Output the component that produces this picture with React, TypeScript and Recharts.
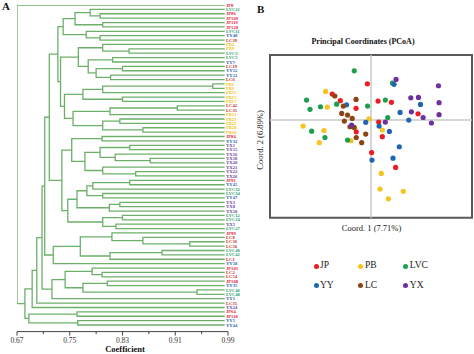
import React from "react";
import {
  LineChart,
  Line,
  XAxis,
  YAxis,
  ScatterChart,
  Scatter,
  ReferenceLine,
  ReferenceArea,
} from "recharts";

const SERIF = "'Liberation Serif', 'Times New Roman', serif";

// ---- Panel A: UPGMA dendrogram ----
const leafLabels = [
  "JP8", "LVC21", "JP86", "JP109", "JP119", "JP128", "LVC11", "YY48", "LC39", "PB4",
  "PB9", "LVC3", "LVC5", "YY7", "LC19", "YY12", "YY22", "LC6", "PB1", "PB3",
  "PB11", "PB15", "PB17", "LC42", "LC31", "PB21", "PB23", "PB25", "PB28", "PB30",
  "JP84", "YY32", "YX1", "YX15", "YX16", "YX18", "YX20", "YX21", "YX22", "YX26",
  "JP91", "YY45", "LVC32", "LVC34", "YY47", "YX3", "YX8", "YX10", "LVC12", "LVC14",
  "YX5", "LVC27", "JP99", "LC8", "LC36", "LC50", "LVC40", "LVC42", "LC1", "YY18",
  "JP103", "LC2", "LC54", "JP108", "YY35", "LVC46", "LVC48", "YY1", "LC35", "YX24",
  "JP64", "JP118", "YY5", "YY44",
];

// node = [coefficient, left, right]; numbers are leaf indices
type Node = number | [number, Node, Node];

const topCluster: Node = [0.74, [0.758, [0.781, 1, [0.796, 2, 3]], [0.8, 4, 5]], [0.775, 6, [0.796, 7, 8]]];
const cluster9to17: Node = [0.763, [0.8, 9, [0.84, 10, 11]], [0.778, [0.815, 12, 13], [0.79, [0.83, 14, 15], [0.812, 16, 17]]]];
const cluster18to22: Node = [0.77, [0.8, [0.967, 18, 19], 20], [0.83, 21, 22]];
const cluster23to29: Node = [0.755, [0.811, [0.913, 23, 24], 25], [0.8, [0.826, 26, 27], [0.861, 28, 29]]];
const cluster30to39: Node = [0.753, [0.799, 30, 31], [0.773, [0.796, [0.841, 32, 33], [0.819, 34, [0.872, 35, 36]]], [0.8, 37, [0.85, 38, 39]]]];
const cluster40to51: Node = [0.747, [0.761, [0.776, [0.785, [0.841, 40, 41], 42], [0.8, 43, 44]], [0.81, [0.826, 45, 46], 47]], [0.8, [0.83, 48, 49], [0.82, 50, 51]]];
const cluster52to59: Node = [0.725, [0.766, [0.814, 52, [0.861, 53, [0.932, 54, 55]]], [0.811, [0.89, 56, 57], 58]], 59];
const cluster60to67: Node = [0.723, [0.743, [0.784, 60, [0.799, 61, 62]], [0.77, [0.807, 63, 64], [0.943, 65, 66]]], 67];
const cluster70to73: Node = [0.688, [0.761, 70, 71], [0.762, 72, 73]];

const upperBranch: Node = [0.732, topCluster, [0.736, cluster9to17, [0.742, cluster18to22, cluster23to29]]];
const middleBranch: Node = [0.738, cluster30to39, cluster40to51];
const fullTree: Node = [
  0.67,
  0,
  [0.682, [0.693, [0.7, [0.708, [0.712, [0.719, upperBranch, middleBranch], cluster52to59], cluster60to67], 68], 69], cluster70to73],
];

const majorTicks = [0.67, 0.75, 0.83, 0.91, 0.99];
const minorTicks = [0.71, 0.79, 0.87, 0.95];

// ---- Panel B: PCoA ----
const groups = ["JP", "PB", "LVC", "YY", "LC", "YX"];
const groupColors: Record<string, string> = {
  JP: "#ec1c24",
  PB: "#f7c31c",
  LVC: "#1ca04f",
  YY: "#1f66b0",
  LC: "#8b4513",
  YX: "#6f2f9f",
};
const labelColors: Record<string, string> = {
  JP: "#e3173a",
  PB: "#f2c019",
  LVC: "#1e9d6e",
  YY: "#2c62b3",
  LC: "#c42b2b",
  YX: "#6b3a9c",
};

const jpPoints = [
  [-0.018, 0.223], [-0.192, 0.16], [-0.152, 0.119], [-0.074, 0.072], [0.035, 0.117], [0.101, 0.109],
  [0.233, 0.039], [0.038, -0.012], [-0.073, -0.072], [0.056, -0.102], [0.003, -0.2], [0.122, -0.291],
];
const pbPoints = [
  [-0.225, 0.176], [-0.217, 0.08], [-0.01, 0.008], [-0.336, -0.037], [-0.233, -0.064], [-0.256, -0.139],
  [-0.099, -0.127], [0.056, -0.061], [0.051, -0.328], [0.045, -0.424], [0.16, -0.438], [0.086, -0.484],
];
const lvcPoints = [
  [-0.083, 0.303], [-0.319, 0.123], [-0.302, 0.066], [-0.25, 0.082], [-0.17, 0.098], [-0.017, 0.086],
  [0.071, 0.123], [0.083, 0.016], [-0.294, -0.068], [-0.228, -0.107], [-0.116, -0.123], [0.106, 0.228],
];
const yyPoints = [
  [0.114, 0.22], [-0.121, 0.094], [0.245, 0.096], [0.144, 0.047], [0.187, 0], [-0.026, -0.014],
  [0.04, -0.037], [0.091, -0.07], [0.14, -0.164], [0.005, -0.246], [0.109, -0.234],
];
const lcPoints = [
  [-0.179, 0.148], [-0.074, 0.127], [-0.137, 0.086], [-0.145, 0.041], [-0.116, 0.031], [-0.093, 0.01],
  [-0.132, -0.006], [-0.104, -0.041], [-0.083, -0.045], [-0.073, -0.107], [-0.026, -0.086], [-0.046, -0.139],
];
const yxPoints = [
  [0.124, 0.25], [0.334, 0.211], [0.197, 0.137], [0.235, 0.139], [0.337, 0.107], [0.2, 0.051],
  [0.258, 0.016], [0.337, 0.033], [0.299, -0.018], [0.071, -0.012], [-0.096, -0.031],
];

const pointsByGroup: Record<string, number[][]> = {
  JP: jpPoints,
  PB: pbPoints,
  LVC: lvcPoints,
  YY: yyPoints,
  LC: lcPoints,
  YX: yxPoints,
};

const LEAF_END = 0.985;

type Pt = { x: number; y: number | null };

/** Walk the tree and emit one elbow path per merge, separated by null breaks. */
function placeNode(node: Node, out: Pt[]): { x: number; y: number } {
  if (typeof node === "number") return { x: LEAF_END, y: node };
  const [h, a, b] = node;
  const pa = placeNode(a, out);
  const pb = placeNode(b, out);
  out.push(
    { x: pa.x, y: pa.y },
    { x: h, y: pa.y },
    { x: h, y: pb.y },
    { x: pb.x, y: pb.y },
    { x: pb.x, y: null }
  );
  return { x: h, y: (pa.y + pb.y) / 2 };
}

const treeSegments: Pt[] = [];
placeNode(fullTree, treeSegments);

const groupOf = (label: string) => label.replace(/[0-9]/g, "");

const CoefTick = (props: any) => {
  const { x, y, payload } = props;
  const major = majorTicks.includes(payload.value);
  return (
    <g>
      <line x1={x} x2={x} y1={y} y2={y + (major ? 4 : 2.5)} stroke="#444" strokeWidth={1} />
      {major && (
        <text x={x} y={y + 11} textAnchor="middle" fontSize={7.5} fontFamily={SERIF} fill="#333">
          {payload.value.toFixed(2)}
        </text>
      )}
    </g>
  );
};

const LeafTick = (props: any) => {
  const { x, y, payload } = props;
  const label = leafLabels[payload.value];
  if (!label) return null;
  return (
    <text x={x - 2} y={y} dy={1.6} fontSize={4.6} fontWeight="bold" fontFamily={SERIF} fill={labelColors[groupOf(label)]}>
      {label}
    </text>
  );
};

const Dot = (props: any) => <circle cx={props.cx} cy={props.cy} r={2.6} fill={props.fill} />;

export default function App() {
  const allTicks = [...majorTicks, ...minorTicks].sort((a, b) => a - b);
  return (
    <div style={{ position: "absolute", left: 0, top: 0, width: 474, height: 354, background: "#fff", fontFamily: SERIF }}>
      <div style={{ position: "absolute", left: 0, top: 0 }}>
        <LineChart width={248} height={354} data={treeSegments} margin={{ top: 5, right: 0, bottom: 0, left: 17 }}>
          <XAxis
            type="number"
            dataKey="x"
            domain={[0.67, 0.99]}
            ticks={allTicks}
            interval={0}
            tick={<CoefTick />}
            tickLine={false}
            tickSize={0}
            tickMargin={0}
            axisLine={{ stroke: "#444", strokeWidth: 1 }}
            height={22.4}
            allowDataOverflow
          />
          <YAxis yAxisId="tree" type="number" domain={[0, 74.5]} reversed hide allowDataOverflow />
          <YAxis
            yAxisId="leaf"
            orientation="right"
            type="number"
            domain={[0, 74.5]}
            reversed
            ticks={leafLabels.map((_, i) => i)}
            interval={0}
            tick={<LeafTick />}
            tickLine={false}
            tickSize={0}
            tickMargin={0}
            axisLine={false}
            width={20}
            allowDataOverflow
          />
          <Line
            yAxisId="tree"
            type="linear"
            dataKey="y"
            stroke="#6cb06a"
            strokeWidth={1.3}
            dot={false}
            activeDot={false}
            isAnimationActive={false}
          />
        </LineChart>
      </div>

      <div style={{ position: "absolute", left: 250, top: 30 }}>
        <ScatterChart width={224} height={200} margin={{ top: 25, right: 2, bottom: 12.3, left: 20 }}>
          <XAxis type="number" dataKey="x" domain={[-0.5, 0.5]} hide allowDataOverflow />
          <YAxis type="number" dataKey="y" domain={[-0.6, 0.4]} hide allowDataOverflow />
          <ReferenceLine x={0} stroke="#c8c8c8" strokeWidth={1.5} />
          <ReferenceLine y={0} stroke="#c8c8c8" strokeWidth={1.5} />
          {groups.map((g) => (
            <Scatter
              key={g}
              name={g}
              data={pointsByGroup[g].map(([x, y]) => ({ x, y }))}
              fill={groupColors[g]}
              shape={<Dot />}
              isAnimationActive={false}
            />
          ))}
          <ReferenceArea x1={-0.5} x2={0.5} y1={-0.6} y2={0.4} fill="none" stroke="#5a5a5a" strokeWidth={2} />
        </ScatterChart>
      </div>

      <svg width={474} height={354} style={{ position: "absolute", left: 0, top: 0, pointerEvents: "none" }}>
        <text x={2} y={10} fontSize={11} fontWeight="bold" fontFamily={SERIF} fill="#111">A</text>
        <text x={257} y={13} fontSize={11} fontWeight="bold" fontFamily={SERIF} fill="#111">B</text>
        <text x={125} y={352} textAnchor="middle" fontSize={8.5} fontWeight="bold" fontFamily={SERIF} fill="#111">
          Coefficient
        </text>
        <text x={363} y={44} textAnchor="middle" fontSize={8} fontWeight="bold" fontFamily={SERIF} fill="#111">
          Principal Coordinates (PCoA)
        </text>
        <text x={371.5} y={231} textAnchor="middle" fontSize={8.5} fontFamily={SERIF} fill="#222">
          Coord. 1 (7.71%)
        </text>
        <text
          x={0}
          y={0}
          transform="translate(263 140) rotate(-90)"
          textAnchor="middle"
          fontSize={8.5}
          fontFamily={SERIF}
          fill="#222"
        >
          Coord. 2 (6.89%)
        </text>
      </svg>

      <div
        style={{
          position: "absolute",
          left: 313.5,
          top: 256.2,
          display: "grid",
          gridTemplateColumns: "44.9px 44.9px 44.9px",
          gridAutoRows: "19.7px",
        }}
      >
        {groups.map((g) => (
          <div key={g} style={{ display: "flex", alignItems: "center", gap: 1.5, fontSize: 9.5, color: "#222", lineHeight: 1 }}>
            <span style={{ width: 5, height: 5, borderRadius: "50%", background: groupColors[g], display: "inline-block" }} />
            <span>{g}</span>
          </div>
        ))}
      </div>
    </div>
  );
}
